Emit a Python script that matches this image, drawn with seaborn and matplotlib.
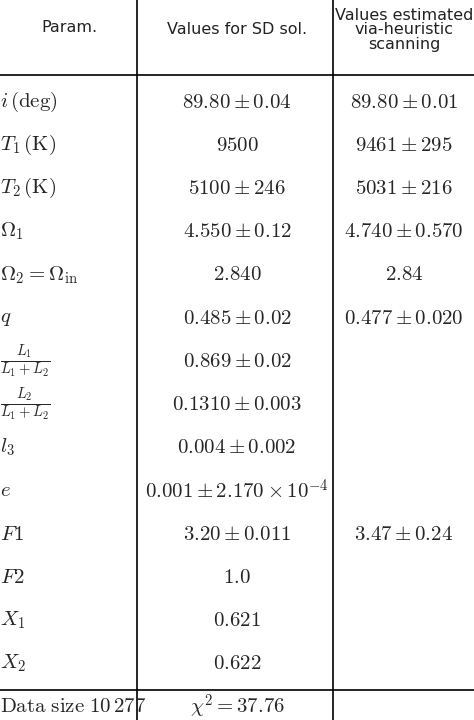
import matplotlib
matplotlib.use("Agg")
import matplotlib.pyplot as plt
import seaborn as sns

sns.set_theme(style="white")
plt.rcParams['mathtext.fontset'] = 'cm'
plt.rcParams['font.family'] = ['DejaVu Serif']

params = [r"$i\,(\mathrm{deg})$", r"$T_1\,(\mathrm{K})$", r"$T_2\,(\mathrm{K})$", r"$\Omega_1$",
          r"$\Omega_2=\Omega_{\mathrm{in}}$", r"$q$", r"$\frac{L_1}{L_1+L_2}$", r"$\frac{L_2}{L_1+L_2}$",
          r"$l_3$", r"$e$", r"$F1$", r"$F2$", r"$X_1$", r"$X_2$", r"$\mathrm{Data\ size\ 10\,277}$"]
sd_vals = [r"$89.80\pm0.04$", r"$9500$", r"$5100\pm246$", r"$4.550\pm0.12$", r"$2.840$",
           r"$0.485\pm0.02$", r"$0.869\pm0.02$", r"$0.1310\pm0.003$", r"$0.004\pm0.002$",
           r"$0.001\pm2.170\times10^{-4}$", r"$3.20\pm0.011$", r"$1.0$", r"$0.621$", r"$0.622$",
           r"$\chi^2=37.76$"]
heur_vals = [r"$89.80\pm0.01$", r"$9461\pm295$", r"$5031\pm216$", r"$4.740\pm0.570$", r"$2.84$",
             r"$0.477\pm0.020$", "", "", "", "", r"$3.47\pm0.24$", "", "", "", ""]
headers = ["Param.", "Values for SD sol.", "Values estimated\nvia-heuristic\nscanning"]

fig = plt.figure(figsize=(4.74, 7.2), dpi=100)
ax = fig.add_axes([0, 0, 1, 1])
ax.set_xlim(0, 474)
step = 43.2
ax.set_ylim((720 - 102) / step, -102 / step)
ax.axis("off")

fs = 15
for i, (p, s, h) in enumerate(zip(params, sd_vals, heur_vals)):
    ax.text(0, i, p, ha="left", va="center", fontsize=fs)
    ax.text(237, i, s, ha="center", va="center", fontsize=fs)
    ax.text(404, i, h, ha="center", va="center", fontsize=fs)

hy = (30 - 102) / step
hk = dict(ha="center", va="center", fontsize=11.5, family="DejaVu Sans", color="#222")
ax.text(69, (28 - 102) / step, headers[0], **hk)
ax.text(237, hy, headers[1], **hk)
ax.text(404, hy, headers[2], linespacing=0.95, **hk)

for x in (137, 333):
    ax.axvline(x, color="black", lw=1.2)
ax.axhline((75 - 102) / step, color="black", lw=1.2)
ax.axhline((690 - 102) / step, color="black", lw=1.2)

fig.savefig("out.png", dpi=100)
